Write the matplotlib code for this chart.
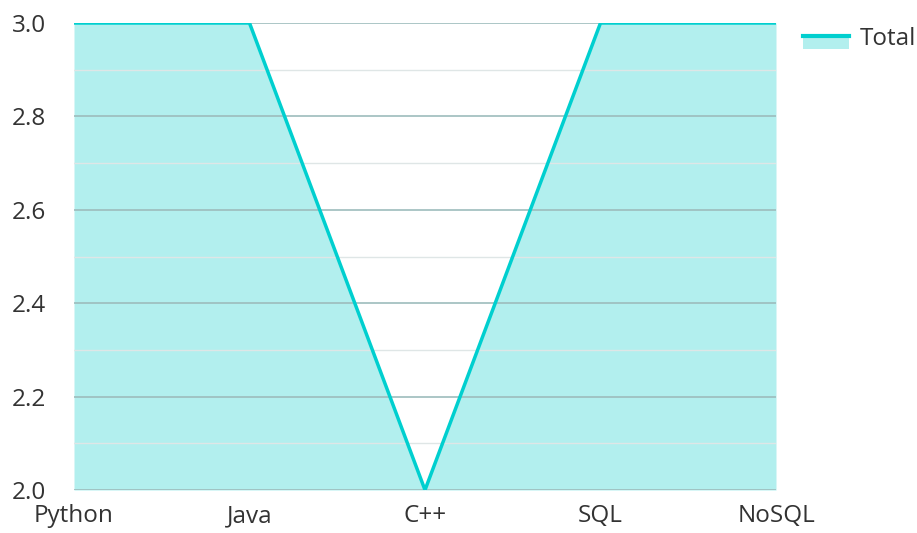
import matplotlib
matplotlib.use("Agg")
import matplotlib.pyplot as plt
from matplotlib.lines import Line2D
from matplotlib.patches import Patch, Rectangle
from matplotlib.legend_handler import HandlerBase
import numpy as np

plt.rcParams['font.family'] = ['Open Sans', 'DejaVu Sans']

categories = ["Python", "Java", "C++", "SQL", "NoSQL"]
total = [3, 3, 2, 3, 3]
y_major = [2.0, 2.2, 2.4, 2.6, 2.8, 3.0]
y_minor = [2.1, 2.3, 2.5, 2.7, 2.9]

line_color = "#00cfcf"
fill_color = "#b2efee"
text_color = "#333333"


class AreaHandler(HandlerBase):
    # line on top, filled band under it, like the reference legend
    def create_artists(self, legend, orig_handle, xdescent, ydescent,
                       width, height, fontsize, trans):
        top = height * 0.55
        band = Rectangle((-xdescent, -ydescent - height * 0.25), width, top + height * 0.25,
                         facecolor=fill_color, edgecolor="none", transform=trans)
        line = Line2D([-xdescent, -xdescent + width], [top, top],
                      color=line_color, linewidth=3, transform=trans)
        return [band, line]


fig = plt.figure(figsize=(9.17, 5.33), dpi=100)
ax = fig.add_axes([74 / 917, 1 - 490 / 533, (776 - 74) / 917, (490 - 23) / 533])

x = np.arange(len(categories))
ax.fill_between(x, 2.0, total, color=fill_color, linewidth=0, zorder=1)
ax.plot(x, total, color=line_color, linewidth=2.5, zorder=3, solid_joinstyle="miter")

ax.set_yticks(y_major)
ax.set_yticks(y_minor, minor=True)
ax.set_yticklabels([f"{v:.1f}" for v in y_major])
ax.set_xlim(0, len(categories) - 1)
ax.set_ylim(2.0, 3.0)
ax.grid(which="major", axis="y", color="#9dbcbc", linewidth=1.2, zorder=2)
ax.grid(which="minor", axis="y", color="#dfe6e6", linewidth=1, zorder=2)
ax.set_axisbelow(False)

ax.set_xticks(x)
ax.set_xticklabels(categories)
ax.tick_params(axis="both", which="both", length=0, labelsize=17.5, colors=text_color)
ax.tick_params(axis="y", pad=20)
ax.tick_params(axis="x", pad=10)
for s in ax.spines.values():
    s.set_visible(False)

leg = fig.legend([Patch()], ["Total"], loc="upper right", bbox_to_anchor=(1.011, 0.97),
                 frameon=False, fontsize=17.5, handlelength=1.9, handletextpad=0.45,
                 borderaxespad=0.05, handler_map={Patch: AreaHandler()})
for t in leg.get_texts():
    t.set_color(text_color)

fig.savefig("out.png", dpi=100)
